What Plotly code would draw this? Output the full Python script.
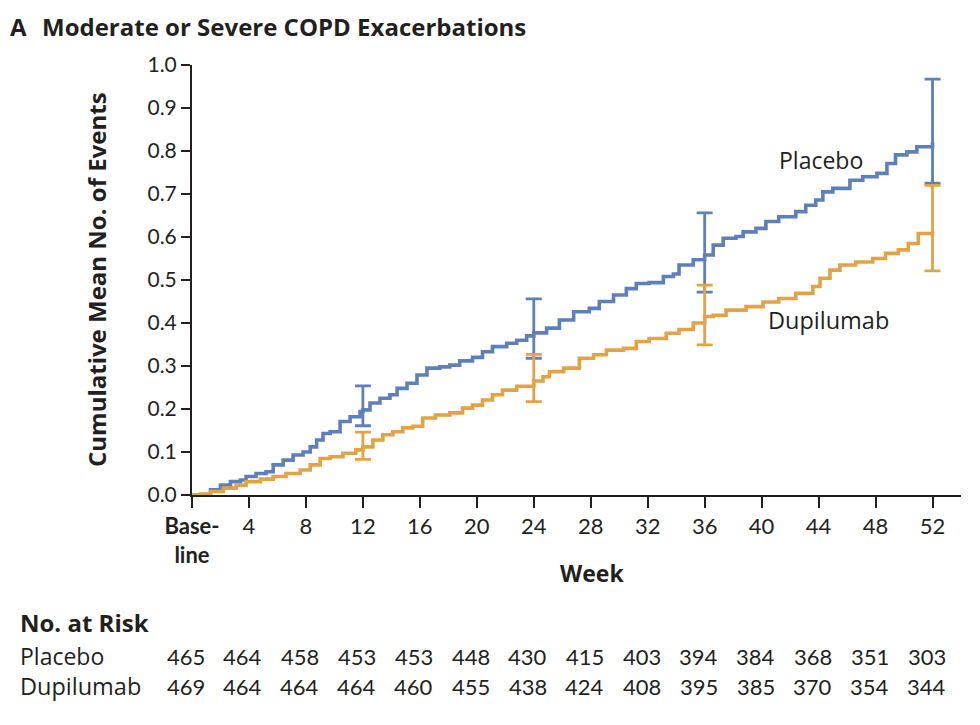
import plotly.graph_objects as go

# ---------------- data ----------------
weeks_placebo = [0, 1.3, 2.0, 2.7, 3.4, 3.8, 4.5, 5.2, 5.7, 6.4, 7.1, 7.8, 8.3, 8.75, 9.2, 9.7,
                 10.4, 11.1, 11.8, 12.0, 12.5, 13.2, 13.9, 14.4, 15.1, 15.8, 16.5, 17.4, 18.1,
                 18.8, 19.7, 20.4, 21.1, 22.1, 22.8, 23.5, 24.0, 24.9, 25.8, 26.8, 27.9, 28.6,
                 29.6, 30.5, 31.2, 32.1, 33.1, 33.8, 34.2, 35.2, 36.0, 36.6, 37.3, 38.2, 38.7,
                 39.6, 40.3, 41.2, 42.4, 43.1, 43.8, 44.3, 45.0, 46.2, 47.1, 48.1, 48.8, 49.4,
                 50.2, 50.9, 52.0]
values_placebo = [0, 0.012, 0.023, 0.031, 0.035, 0.043, 0.05, 0.054, 0.07, 0.081, 0.093, 0.10,
                  0.112, 0.128, 0.143, 0.147, 0.171, 0.182, 0.194, 0.198, 0.214, 0.225, 0.233,
                  0.248, 0.26, 0.279, 0.295, 0.298, 0.302, 0.312, 0.32, 0.333, 0.345, 0.353,
                  0.36, 0.37, 0.377, 0.388, 0.407, 0.426, 0.434, 0.45, 0.465, 0.48, 0.492,
                  0.494, 0.508, 0.514, 0.535, 0.547, 0.558, 0.581, 0.597, 0.601, 0.612, 0.62,
                  0.636, 0.647, 0.659, 0.674, 0.686, 0.705, 0.713, 0.732, 0.74, 0.748, 0.771,
                  0.791, 0.798, 0.81, 0.82]

weeks_dupilumab = [0, 0.6, 1.3, 2.2, 3.1, 3.8, 4.8, 5.7, 6.6, 7.6, 8.3, 9.0, 9.7, 10.6, 11.5,
                   12.0, 12.7, 13.4, 14.1, 14.8, 15.5, 16.2, 17.1, 18.1, 19.0, 19.7, 20.4, 21.1,
                   21.8, 22.8, 24.0, 24.65, 25.1, 26.1, 27.2, 28.2, 29.1, 30.3, 31.2, 32.1, 33.3,
                   34.2, 35.2, 36.0, 36.6, 37.5, 38.9, 40.1, 41.2, 42.4, 43.6, 44.1, 44.8, 45.5,
                   46.6, 47.8, 48.7, 49.6, 50.3, 51.0, 52.0]
values_dupilumab = [0, 0.002, 0.008, 0.016, 0.023, 0.031, 0.037, 0.043, 0.05, 0.058, 0.07, 0.085,
                    0.089, 0.097, 0.105, 0.112, 0.128, 0.14, 0.147, 0.156, 0.16, 0.179, 0.186,
                    0.191, 0.202, 0.209, 0.221, 0.233, 0.244, 0.253, 0.265, 0.275, 0.287, 0.295,
                    0.318, 0.326, 0.337, 0.341, 0.357, 0.364, 0.376, 0.385, 0.40, 0.415, 0.418,
                    0.43, 0.438, 0.449, 0.457, 0.469, 0.485, 0.504, 0.523, 0.535, 0.542, 0.55,
                    0.562, 0.57, 0.585, 0.608, 0.612]

err_weeks = [12, 24, 36, 52]
placebo_mean = [0.198, 0.377, 0.558, 0.82]
placebo_upper = [0.254, 0.456, 0.656, 0.967]
placebo_lower = [0.161, 0.318, 0.472, 0.725]
dupilumab_mean = [0.112, 0.267, 0.415, 0.612]
dupilumab_upper = [0.146, 0.327, 0.488, 0.72]
dupilumab_lower = [0.083, 0.217, 0.349, 0.521]

x_tickvals = [0, 4, 8, 12, 16, 20, 24, 28, 32, 36, 40, 44, 48, 52]
x_ticktext = ["<b>Base-</b><br><b>line</b>", "4", "8", "12", "16", "20", "24", "28", "32",
              "36", "40", "44", "48", "52"]
y_tickvals = [0.0, 0.1, 0.2, 0.3, 0.4, 0.5, 0.6, 0.7, 0.8, 0.9, 1.0]

risk_weeks = x_tickvals
risk_placebo = [465, 464, 458, 453, 453, 448, 430, 415, 403, 394, 384, 368, 351, 303]
risk_dupilumab = [469, 464, 464, 464, 460, 455, 438, 424, 408, 395, 385, 370, 354, 344]

# ---------------- style ----------------
BLUE = "#5d80bb"
ORANGE = "#e2a344"
NUMFONT = "Lato, 'Open Sans', sans-serif"
WORDFONT = "'Open Sans', Lato, sans-serif"
TXT = "#231f20"

# browser body margin is 8px, so the figure is drawn 8px in from the top-left corner
OFF = 8
W, H = 980 - OFF, 725 - OFF
L, T = 192 - OFF, 65 - OFF
PW, PH = 769, 430
R, B = W - L - PW, H - T - PH


def px(xp):
    return (xp - 192) / PW


def py(yp):
    return (495 - yp) / PH


fig = go.Figure()
fig.add_trace(go.Scatter(x=weeks_placebo, y=values_placebo, mode="lines",
                         line=dict(color=BLUE, width=3.6, shape="hv"), showlegend=False))
fig.add_trace(go.Scatter(x=weeks_dupilumab, y=values_dupilumab, mode="lines",
                         line=dict(color=ORANGE, width=3.6, shape="hv"), showlegend=False))

fig.add_trace(go.Scatter(
    x=err_weeks, y=placebo_mean, mode="markers", marker=dict(size=1, color=BLUE, opacity=0),
    error_y=dict(type="data", symmetric=False,
                 array=[u - m for u, m in zip(placebo_upper, placebo_mean)],
                 arrayminus=[m - l for m, l in zip(placebo_mean, placebo_lower)],
                 color=BLUE, thickness=2.8, width=8),
    showlegend=False))
fig.add_trace(go.Scatter(
    x=err_weeks, y=dupilumab_mean, mode="markers", marker=dict(size=1, color=ORANGE, opacity=0),
    error_y=dict(type="data", symmetric=False,
                 array=[u - m for u, m in zip(dupilumab_upper, dupilumab_mean)],
                 arrayminus=[m - l for m, l in zip(dupilumab_mean, dupilumab_lower)],
                 color=ORANGE, thickness=2.8, width=8),
    showlegend=False))

annotations = []
annotations.append(dict(text="<b>A</b>", x=px(9), y=py(9), xref="paper", yref="paper",
                        xanchor="left", yanchor="top", showarrow=False, borderpad=0,
                        font=dict(family=WORDFONT, size=24, color=TXT)))
annotations.append(dict(text="<b>Moderate or Severe COPD Exacerbations</b>", x=px(41), y=py(9),
                        xref="paper", yref="paper", xanchor="left", yanchor="top",
                        showarrow=False, borderpad=0,
                        font=dict(family=WORDFONT, size=24, color=TXT)))
annotations.append(dict(text="<b>Cumulative Mean No. of Events</b>", x=px(96), y=py(280),
                        xref="paper", yref="paper", xanchor="center", yanchor="middle",
                        textangle=-90, showarrow=False,
                        font=dict(family=WORDFONT, size=24, color=TXT)))
annotations.append(dict(text="<b>Week</b>", x=px(592), y=py(573), xref="paper", yref="paper",
                        xanchor="center", yanchor="middle", showarrow=False,
                        font=dict(family=WORDFONT, size=23, color=TXT)))
annotations.append(dict(text="Placebo", x=44.2, y=0.779, xref="x", yref="y", showarrow=False,
                        font=dict(family=WORDFONT, size=23, color=TXT)))
annotations.append(dict(text="Dupilumab", x=44.7, y=0.407, xref="x", yref="y", showarrow=False,
                        font=dict(family=WORDFONT, size=23.5, color=TXT)))
annotations.append(dict(text="<b>No. at Risk</b>", x=px(18), y=py(622), xref="paper",
                        yref="paper", xanchor="left", yanchor="middle", showarrow=False,
                        font=dict(family=WORDFONT, size=24, color=TXT)))
annotations.append(dict(text="Placebo", x=px(18), y=py(656), xref="paper", yref="paper",
                        xanchor="left", yanchor="middle", showarrow=False,
                        font=dict(family=WORDFONT, size=23, color=TXT)))
annotations.append(dict(text="Dupilumab", x=px(18), y=py(686), xref="paper", yref="paper",
                        xanchor="left", yanchor="middle", showarrow=False,
                        font=dict(family=WORDFONT, size=23.5, color=TXT)))
for wk, a, b in zip(risk_weeks, risk_placebo, risk_dupilumab):
    annotations.append(dict(text=str(a), x=wk, y=py(656), xref="x", yref="paper",
                            xanchor="center", yanchor="middle", xshift=-6, showarrow=False,
                            font=dict(family=NUMFONT, size=22, color=TXT)))
    annotations.append(dict(text=str(b), x=wk, y=py(686), xref="x", yref="paper",
                            xanchor="center", yanchor="middle", xshift=-6, showarrow=False,
                            font=dict(family=NUMFONT, size=22, color=TXT)))

fig.update_layout(
    width=W, height=H,
    margin=dict(l=L, r=R, t=T, b=B, pad=0),
    paper_bgcolor="white", plot_bgcolor="white",
    annotations=annotations,
    xaxis=dict(range=[0, 54], tickvals=x_tickvals, ticktext=x_ticktext, showgrid=False,
               zeroline=False, showline=True, linecolor=TXT, linewidth=2,
               ticks="outside", ticklen=11, tickwidth=2, tickcolor=TXT,
               tickfont=dict(family=NUMFONT, size=22, color=TXT), fixedrange=True),
    yaxis=dict(range=[0, 1.0], tickvals=y_tickvals, tickformat=".1f", showgrid=False,
               zeroline=False, showline=True, linecolor=TXT, linewidth=2,
               ticks="outside", ticklen=9, tickwidth=2, tickcolor=TXT,
               tickfont=dict(family=NUMFONT, size=21, color=TXT), fixedrange=True),
)

fig.write_html("out.html")
